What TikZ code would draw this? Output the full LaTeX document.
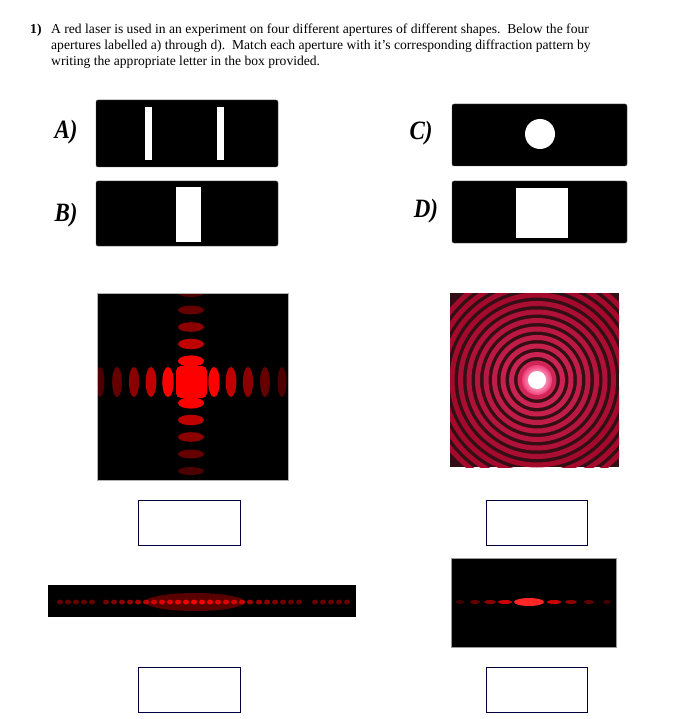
\documentclass[tikz,border=0pt]{standalone}
\usepackage{fontspec}
\setmainfont{Liberation Serif}
\usetikzlibrary{shapes.geometric}
\definecolor{ringred}{RGB}{165,10,45}
\definecolor{ringdark}{RGB}{50,15,20}
\definecolor{ringpink}{RGB}{240,60,120}
\begin{document}
\begin{tikzpicture}[x=1pt,y=-1pt,
  txt/.style={anchor=base west,inner sep=0,font=\fontsize{13.6}{16}\selectfont},
  lbl/.style={inner sep=0,font=\fontsize{23}{26}\selectfont\bfseries\itshape},
  aper/.style={fill=black,draw=black!70,rounded corners=2pt},
  ans/.style={draw=black!60!blue!60!black,line width=0.8pt}]
\useasboundingbox (0,0) rectangle (687,719);
\node[txt,font=\fontsize{13.6}{16}\selectfont\bfseries] (n1) at (30,34) {1)};
\node[txt] (t1) at (51,34) {A red laser is used in an experiment on four different apertures of different shapes.\ \ Below the four};
\node[txt] (t2) at (51,50) {apertures labelled a) through d).\ \ Match each aperture with it's corresponding diffraction pattern by};
\node[txt] (t3) at (51,66) {writing the appropriate letter in the box provided.};
% labels
\node[lbl,yscale=1.15] (la) at (66,132) {A)};
\node[lbl,yscale=1.15] (lb) at (66,215) {B)};
\node[lbl,yscale=1.15] (lc) at (421,133) {C)};
\node[lbl,yscale=1.15] (ld) at (426,211) {D)};
% apertures
\draw[aper] (96,100) rectangle (278,167);
\fill[white] (145,107) rectangle (152,160);
\fill[white] (217,107) rectangle (224,160);
\draw[aper] (96,181) rectangle (278,246);
\fill[white] (176,187) rectangle (201,242);
\draw[aper] (452,104) rectangle (627,166);
\fill[white] (540,134) circle (15);
\draw[aper] (452,181) rectangle (627,243);
\fill[white] (516,188) rectangle (568,238);
% pattern 1: square aperture
\begin{scope}
\clip (97,293) rectangle (288,480);
\fill[black] (97,293) rectangle (288,480);
\fill[red,rounded corners=5pt] (176,366) rectangle (207,398);
\foreach \k/\o in {1/1,2/0.75,3/0.55,4/0.4,5/0.3,6/0.2}{
  \pgfmathsetmacro{\wa}{6-0.3*\k}
  \pgfmathsetmacro{\hb}{6-0.4*\k}
  \fill[red,opacity=\o] (191+17*\k+6,382) ellipse ({\wa} and 15);
  \fill[red,opacity=\o] (191-17*\k-6,382) ellipse ({\wa} and 15);
  \fill[red,opacity=\o] (191,382-17*\k-4) ellipse (13 and {\hb});
  \fill[red,opacity=\o] (191,382+17*\k+4) ellipse (13 and {\hb});
}
\end{scope}
\draw[black!30] (97,293) rectangle (288,480);
% pattern 2: circular rings
\begin{scope}
\clip (450,293) rectangle (619,467);
\fill[ringdark] (450,293) rectangle (619,467);
\foreach \i in {13,...,1}{
  \pgfmathtruncatemacro{\m}{max(0,70-7*\i)}
  \draw[line width=5pt,ringpink!\m!ringred] (537,380) circle ({8.5*\i});
}
\shade[inner color=white,outer color=ringpink] (537,380) circle (15);
\fill[white] (537,380) circle (9);
\end{scope}
% answer boxes
\draw[ans] (138,500) rectangle (240,545);
\draw[ans] (486,500) rectangle (587,545);
\draw[ans] (138,667) rectangle (240,712);
\draw[ans] (486,667) rectangle (587,712);
% pattern 3: double slit
\fill[black] (48,585) rectangle (356,617);
\fill[red,opacity=0.35] (195,602) ellipse (50 and 9);
\foreach \a/\n in {57/5,103/6,151/13,256/6,312/5}{
  \foreach \j in {1,...,\n}{
    \pgfmathsetmacro{\xx}{\a+3+8*(\j-1)}
    \pgfmathsetmacro{\op}{max(0.4,1-abs(\xx-195)/160)}
    \fill[red,opacity=\op] (\xx,602) ellipse (3 and 2.5);
  }
}
% pattern 4: single slit
\fill[black] (451,558) rectangle (616,647);
\draw[black!40] (451,558) rectangle (616,647);
\fill[red!85!white] (529,602) ellipse (15 and 4);
\foreach \x/\w/\o in {554/7/0.8,571/6/0.55,589/5/0.4,607/4/0.25,505/7/0.8,490/6/0.55,475/5/0.4,460/4/0.25}{
  \fill[red,opacity=\o] (\x,602) ellipse ({\w} and 2);
}
\end{tikzpicture}
\end{document}
